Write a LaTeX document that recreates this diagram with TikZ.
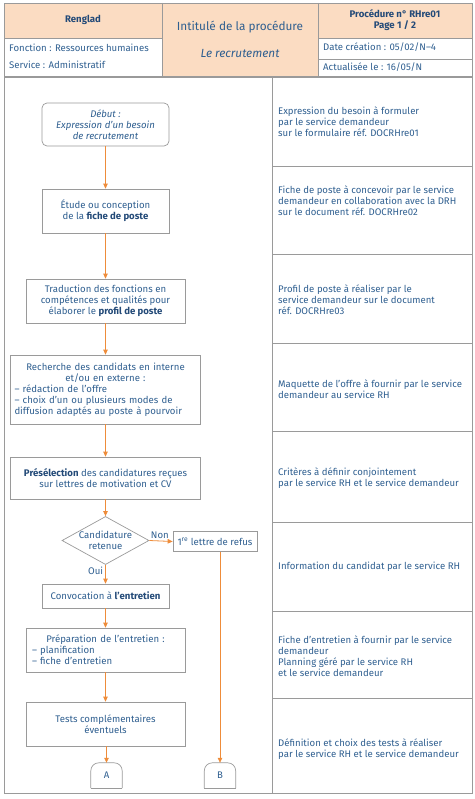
\documentclass[tikz,border=0pt]{standalone}
\usepackage{fontspec}
\setmainfont{Fira Sans}
\usetikzlibrary{arrows.meta,shapes.geometric,calc}
\definecolor{peach}{HTML}{FBDCC2}
\definecolor{txtblue}{HTML}{2F5F90}
\definecolor{boldblue}{HTML}{234A78}
\definecolor{arrorange}{HTML}{EE8C3A}
\definecolor{linegray}{HTML}{9A9A9A}
\begin{document}
\begin{tikzpicture}[x=1pt,y=-1pt,
  every node/.style={text=txtblue,font=\fontsize{9.6}{10.9}\selectfont,inner sep=0pt},
  cell/.style={draw=linegray,line width=0.8pt},
  flowbox/.style={draw=linegray,line width=0.7pt,fill=white,align=center},
  flowarrow/.style={draw=arrorange,line width=0.8pt,-{Triangle[length=5pt,width=4.5pt]}},
  desc/.style={anchor=west,align=left}]
\useasboundingbox (0,0) rectangle (474,799);
% ---------- header ----------
\fill[peach] (4,3) rectangle (162,38);
\fill[peach] (162,3) rectangle (318,77);
\fill[peach] (318,3) rectangle (472,38);
\draw[cell] (4,3) rectangle (472,77);
\draw[cell] (4,38) -- (162,38);
\draw[cell] (318,38) -- (472,38);
\draw[cell] (162,3) -- (162,77);
\draw[cell] (318,3) -- (318,77);
\draw[cell] (318,59) -- (472,59);
\node[font=\fontsize{9.6}{10.9}\selectfont\bfseries,text=boldblue] (renglad) at (83,20) {Renglad};
\node[anchor=west] (fonction) at (9,48) {Fonction : Ressources humaines};
\node[anchor=west] (service) at (9,65) {Service : Administratif};
\node[font=\fontsize{11.8}{13}\selectfont] (intitule) at (240,27) {Intitulé de la procédure};
\node[font=\fontsize{11.8}{13}\selectfont\itshape] (lerec) at (240,54) {Le recrutement};
\node[font=\fontsize{9.6}{10.4}\selectfont\bfseries,text=boldblue,align=center] (proc) at (395,20) {Procédure n° RHre01\\Page 1 / 2};
\node[anchor=west] (datec) at (323,47) {Date création : 05/02/N–4};
\node[anchor=west] (actu) at (323,67) {Actualisée le : 16/05/N};
% ---------- body grid ----------
\draw[cell,line width=1pt] (4,77) rectangle (472,793);
\draw[cell] (272,77) -- (272,793);
\foreach \yy in {166,254,343,431,522,611,698} \draw[cell] (272,\yy) -- (472,\yy);
% ---------- right descriptions ----------
\node[desc] (d1) at (278,122) {Expression du besoin à formuler\\par le service demandeur\\sur le formulaire réf. DOCRHre01};
\node[desc] (d2) at (278,201) {Fiche de poste à concevoir par le service\\demandeur en collaboration avec la DRH\\sur le document réf. DOCRHre02};
\node[desc] (d3) at (278,300) {Profil de poste à réaliser par le\\service demandeur sur le document\\réf. DOCRHre03};
\node[desc] (d4) at (278,389) {Maquette de l’offre à fournir par le service\\demandeur au service RH};
\node[desc] (d5) at (278,478) {Critères à définir conjointement\\par le service RH et le service demandeur};
\node[desc] (d6) at (278,567) {Information du candidat par le service RH};
\node[desc] (d7) at (278,656) {Fiche d’entretien à fournir par le service\\demandeur\\Planning géré par le service RH\\et le service demandeur};
\node[desc] (d8) at (278,749) {Définition et choix des tests à réaliser\\par le service RH et le service demandeur};
% ---------- flow ----------
\node[flowbox,rounded corners=5pt,minimum width=127pt,minimum height=43pt,font=\fontsize{9.6}{11.2}\selectfont\itshape] (debut) at (105.5,124.5) {Début :\\Expression d’un besoin\\de recrutement};
\node[flowbox,minimum width=127pt,minimum height=44pt] (fiche) at (105.5,211) {Étude ou conception\\de la {\bfseries\color{boldblue}fiche de poste}};
\node[flowbox,minimum width=159pt,minimum height=44pt] (profil) at (105.5,301) {Traduction des fonctions en\\compétences et qualités pour\\élaborer le {\bfseries\color{boldblue}profil de poste}};
\node[flowbox,minimum width=190pt,minimum height=69pt,text width=182pt,align=left] (recherche) at (105.5,389.5) {{\centering Recherche des candidats en interne\\et/ou en externe :\par}– rédaction de l’offre\\– choix d’un ou plusieurs modes de\\diffusion adaptés au poste à pourvoir};
\node[flowbox,minimum width=190pt,minimum height=42pt] (presel) at (105.5,478) {{\bfseries\color{boldblue}Présélection} des candidatures reçues\\sur lettres de motivation et CV};
\node[flowbox,diamond,aspect=1.8,minimum width=87pt,minimum height=48pt] (cand) at (105.5,540.5) {Candidature\\retenue};
\node[flowbox,minimum width=84pt,minimum height=20pt] (refus) at (215,541.5) {1\textsuperscript{re} lettre de refus};
\node[flowbox,minimum width=127pt,minimum height=24pt] (convoc) at (105.5,596) {Convocation à {\bfseries\color{boldblue}l’entretien}};
\node[flowbox,minimum width=159pt,minimum height=44pt,text width=147pt,align=left] (prep) at (105.5,650) {{\centering Préparation de l’entretien :\par}– planification\\– fiche d’entretien};
\node[flowbox,minimum width=159pt,minimum height=44pt] (tests) at (105.5,724) {Tests complémentaires\\éventuels};
\node[minimum width=31pt,minimum height=25pt] (A) at (106.5,775.5) {A};
\node[minimum width=31pt,minimum height=25pt] (B) at (220,775.5) {B};
\draw[draw=linegray,line width=0.7pt,rounded corners=8pt] (A.south west) -- (A.north west) -- (A.north east) -- (A.south east);
\draw[draw=linegray,line width=0.7pt] (A.south west) -- (A.south east);
\draw[draw=linegray,line width=0.7pt,rounded corners=8pt] (B.south west) -- (B.north west) -- (B.north east) -- (B.south east);
\draw[draw=linegray,line width=0.7pt] (B.south west) -- (B.south east);
% arrows
\draw[flowarrow] (debut) -- (fiche);
\draw[flowarrow] (fiche) -- (profil);
\draw[flowarrow] (profil) -- (recherche);
\draw[flowarrow] (recherche) -- (presel);
\draw[flowarrow] (presel) -- (cand);
\draw[flowarrow] (cand.east) -- node[above=2pt,pos=0.45] (non) {Non} (refus.west);
\draw[flowarrow] (cand.south) -- node[left=2pt,pos=0.3] (oui) {Oui} (convoc.north);
\draw[flowarrow] (convoc) -- (prep);
\draw[flowarrow] (prep) -- (tests);
\draw[flowarrow] (tests.south -| A.north) -- (A.north);
\draw[flowarrow] (refus.south -| B.north) -- (B.north);
\end{tikzpicture}
\end{document}
